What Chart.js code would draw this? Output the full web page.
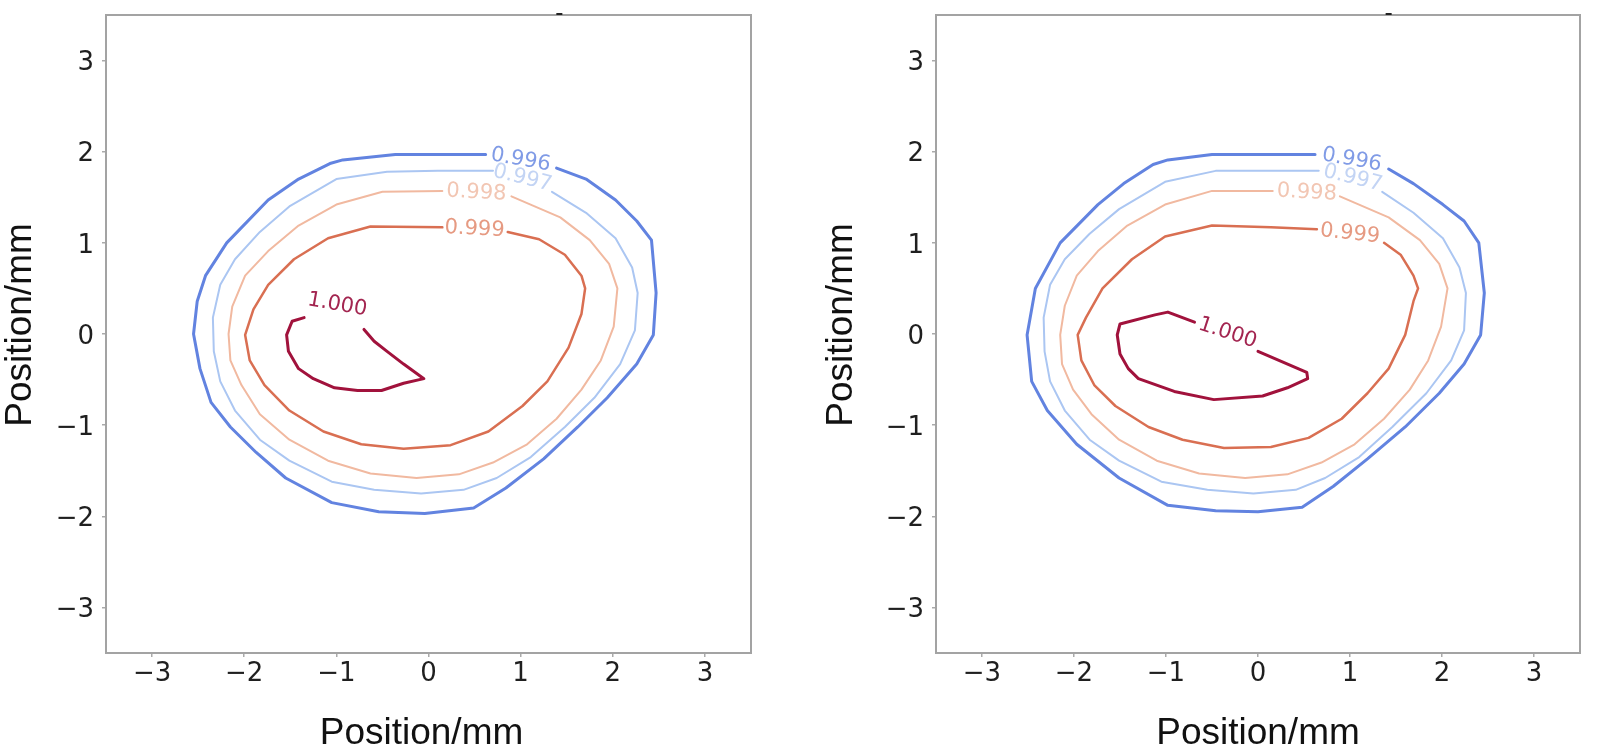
<!DOCTYPE html>
<html>
<head>
<meta charset="utf-8">
<script src="https://cdn.jsdelivr.net/npm/chart.js@4.4.1/dist/chart.umd.min.js"></script>
<style>
  body { margin: 0; background: #fff; width: 1600px; height: 744px; overflow: hidden; position: relative; }
  canvas { position: absolute; top: 0; }
  #left { left: 0; }
  #right { left: 821px; }
</style>
</head>
<body>
<canvas id="left" width="810" height="744"></canvas>
<canvas id="right" width="779" height="744"></canvas>
<script>
const tickValues = [-3, -2, -1, 0, 1, 2, 3];
const tickLabels = ['\u22123', '\u22122', '\u22121', '0', '1', '2', '3'];
const levels = ['0.996', '0.997', '0.998', '0.999', '1.000'];
const titleText = 'Position/mm';
const topTickValue = 1.42; // the stray little dash on the upper spine

// left panel, one open polyline per level (gap = label)
const left996 = [[0.62,1.97],[-0.36,1.97],[-0.93,1.91],[-1.07,1.87],[-1.41,1.70],[-1.74,1.47],[-2.19,1.00],[-2.42,0.64],[-2.51,0.36],[-2.55,0.0],[-2.48,-0.38],[-2.36,-0.75],[-2.15,-1.02],[-1.87,-1.30],[-1.55,-1.58],[-1.05,-1.85],[-0.54,-1.95],[-0.04,-1.97],[0.49,-1.91],[0.84,-1.69],[1.25,-1.37],[1.62,-1.02],[1.94,-0.70],[2.26,-0.33],[2.44,-0.01],[2.47,0.45],[2.42,1.03],[2.26,1.24],[2.03,1.47],[1.71,1.70],[1.39,1.82]];
const left997 = [[0.70,1.79],[0.10,1.79],[-0.45,1.78],[-1.00,1.70],[-1.51,1.40],[-1.83,1.12],[-2.10,0.82],[-2.26,0.54],[-2.34,0.18],[-2.33,-0.19],[-2.26,-0.52],[-2.10,-0.84],[-1.83,-1.16],[-1.51,-1.39],[-1.05,-1.62],[-0.59,-1.71],[-0.08,-1.75],[0.38,-1.71],[0.74,-1.58],[1.11,-1.35],[1.48,-1.02],[1.80,-0.70],[2.08,-0.33],[2.24,0.04],[2.27,0.45],[2.21,0.73],[2.03,1.05],[1.71,1.33],[1.34,1.56]];
const left998 = [[0.15,1.57],[-0.50,1.56],[-1.00,1.42],[-1.41,1.19],[-1.74,0.91],[-1.99,0.64],[-2.13,0.30],[-2.17,0.0],[-2.15,-0.29],[-2.03,-0.56],[-1.83,-0.88],[-1.51,-1.16],[-1.09,-1.39],[-0.63,-1.53],[-0.13,-1.58],[0.33,-1.54],[0.70,-1.41],[1.07,-1.21],[1.39,-0.93],[1.66,-0.61],[1.87,-0.29],[2.01,0.08],[2.05,0.50],[1.96,0.77],[1.75,1.03],[1.43,1.28],[0.90,1.51]];
const left999 = [[0.15,1.17],[-0.63,1.18],[-1.09,1.05],[-1.46,0.82],[-1.74,0.54],[-1.90,0.27],[-1.99,-0.01],[-1.94,-0.29],[-1.78,-0.56],[-1.51,-0.84],[-1.14,-1.07],[-0.73,-1.21],[-0.27,-1.26],[0.24,-1.22],[0.65,-1.07],[1.02,-0.79],[1.29,-0.52],[1.52,-0.15],[1.66,0.22],[1.70,0.50],[1.66,0.64],[1.48,0.87],[1.20,1.04],[0.86,1.12]];
const left1000 = [[-1.35,0.18],[-1.48,0.14],[-1.54,-0.01],[-1.52,-0.19],[-1.41,-0.38],[-1.25,-0.49],[-1.02,-0.59],[-0.77,-0.62],[-0.51,-0.62],[-0.27,-0.54],[-0.05,-0.49],[-0.27,-0.33],[-0.45,-0.19],[-0.59,-0.08],[-0.70,0.05]];

// right panel
const right996 = [[0.62,1.97],[-0.50,1.97],[-0.98,1.91],[-1.14,1.86],[-1.46,1.65],[-1.74,1.42],[-2.15,1.00],[-2.42,0.50],[-2.51,-0.01],[-2.46,-0.52],[-2.29,-0.84],[-1.97,-1.21],[-1.51,-1.58],[-0.98,-1.88],[-0.46,-1.94],[0.0,-1.95],[0.48,-1.90],[0.82,-1.67],[1.19,-1.37],[1.60,-1.02],[1.97,-0.65],[2.24,-0.33],[2.42,-0.01],[2.46,0.45],[2.40,1.00],[2.24,1.24],[2.01,1.42],[1.69,1.65],[1.42,1.81]];
const right997 = [[0.66,1.79],[-0.46,1.79],[-1.01,1.67],[-1.51,1.37],[-1.83,1.10],[-2.10,0.82],[-2.26,0.54],[-2.33,0.18],[-2.32,-0.19],[-2.26,-0.52],[-2.10,-0.84],[-1.83,-1.16],[-1.51,-1.39],[-1.05,-1.62],[-0.55,-1.71],[-0.05,-1.75],[0.41,-1.71],[0.73,-1.58],[1.10,-1.35],[1.46,-1.02],[1.83,-0.65],[2.10,-0.29],[2.24,0.04],[2.26,0.45],[2.19,0.73],[2.01,1.05],[1.69,1.33],[1.35,1.56]];
const right998 = [[0.16,1.57],[-0.50,1.57],[-1.01,1.42],[-1.42,1.19],[-1.74,0.91],[-1.97,0.64],[-2.10,0.31],[-2.15,-0.01],[-2.13,-0.33],[-2.01,-0.61],[-1.81,-0.88],[-1.51,-1.16],[-1.10,-1.39],[-0.64,-1.53],[-0.14,-1.58],[0.32,-1.54],[0.69,-1.41],[1.05,-1.21],[1.37,-0.93],[1.65,-0.61],[1.85,-0.29],[1.99,0.08],[2.06,0.50],[1.97,0.77],[1.76,1.03],[1.42,1.28],[0.89,1.51]];
const right999 = [[0.64,1.15],[0.14,1.17],[-0.50,1.19],[-1.01,1.07],[-1.37,0.82],[-1.69,0.50],[-1.87,0.18],[-1.96,-0.01],[-1.92,-0.29],[-1.78,-0.56],[-1.55,-0.79],[-1.19,-1.02],[-0.82,-1.16],[-0.37,-1.25],[0.14,-1.24],[0.55,-1.14],[0.91,-0.93],[1.19,-0.65],[1.42,-0.38],[1.60,-0.01],[1.69,0.36],[1.74,0.50],[1.69,0.64],[1.55,0.87],[1.37,1.00]];
const right1000 = [[-0.69,0.13],[-0.98,0.24],[-1.12,0.21],[-1.50,0.11],[-1.53,-0.01],[-1.50,-0.22],[-1.41,-0.38],[-1.30,-0.49],[-0.91,-0.63],[-0.48,-0.72],[0.05,-0.68],[0.32,-0.59],[0.54,-0.49],[0.53,-0.42],[0.0,-0.19]];

const lineColors = ['#6283e0', '#abc6f2', '#f1b9a0', '#d96f52', '#a1123c'];
const labelColors = ['#809be6', '#c3d4f4', '#f2c6b3', '#e69a82', '#a32550'];
const lineWidths = [3, 2, 2, 2.5, 3];

// where each level's inline label sits: [x, y, rotation deg]
const leftSpots = [[1.00, 1.91, 10], [1.02, 1.71, 14], [0.52, 1.55, 3], [0.50, 1.15, 3], [-0.99, 0.32, 10]];
const rightSpots = [[1.02, 1.91, 10], [1.03, 1.71, 14], [0.53, 1.55, 3], [1.00, 1.10, 6], [-0.33, 0.01, 18]];

const contourLabels = {
  id: 'contourLabels',
  afterDatasetsDraw(chart, args, opts) {
    const {ctx, scales: {x, y}} = chart;
    ctx.save();
    ctx.font = '21px "DejaVu Sans"';
    ctx.textAlign = 'center';
    ctx.textBaseline = 'middle';
    opts.spots.forEach((s, i) => {
      ctx.save();
      ctx.translate(x.getPixelForValue(s[0]), y.getPixelForValue(s[1]));
      ctx.rotate(s[2] * Math.PI / 180);
      ctx.fillStyle = labelColors[i];
      ctx.fillText(levels[i], 0, 0);
      ctx.restore();
    });
    ctx.restore();
  }
};

// grey box round the plot plus both axis titles
const frame = {
  id: 'frame',
  afterDraw(chart, args, opts) {
    const {ctx, chartArea: a, scales: {x}} = chart;
    ctx.save();
    ctx.strokeStyle = '#a3a3a3';
    ctx.lineWidth = 2;
    ctx.strokeRect(a.left, a.top, a.right - a.left, a.bottom - a.top);
    ctx.fillStyle = '#222';
    ctx.fillRect(x.getPixelForValue(topTickValue) - 3, a.top - 2, 6, 2);

    ctx.font = '37px "Liberation Sans"';
    ctx.fillStyle = '#111';
    ctx.textAlign = 'center';
    ctx.textBaseline = 'middle';
    ctx.fillText(titleText, (a.left + a.right) / 2 + opts.xShift, 734);
    ctx.translate(21, 325);
    ctx.rotate(-Math.PI / 2);
    ctx.fillText(titleText, 0, 0);
    ctx.restore();
  }
};

function axis(isX, size) {
  return {
    type: 'linear',
    min: -3.5,
    max: 3.5,
    afterBuildTicks: (s) => { s.ticks = tickValues.map((v) => ({value: v})); },
    afterFit: (s) => {
      if (isX) { s.height = size; s.paddingLeft = 0; s.paddingRight = 0; }
      else { s.width = size; s.paddingTop = 0; s.paddingBottom = 0; }
    },
    ticks: {
      callback: (v, i) => tickLabels[i],
      font: {family: 'DejaVu Sans', size: 26},
      color: '#1f1f1f',
      padding: isX ? 2 : 8,
      labelOffset: isX ? 0 : 3,
      maxRotation: 0,
      autoSkip: false
    },
    grid: {drawOnChartArea: false, tickLength: 4, color: '#aaa', lineWidth: 1.5},
    border: {display: false},
    title: {display: false}
  };
}

function drawPanel(id, contours, spots, yWidth, padRight, xShift) {
  return new Chart(document.getElementById(id), {
    type: 'scatter',
    data: {
      datasets: contours.map((d, i) => ({
        label: levels[i],
        data: d,
        showLine: true,
        pointRadius: 0,
        borderColor: lineColors[i],
        borderWidth: lineWidths[i],
        borderJoinStyle: 'round',
        borderCapStyle: 'round',
        tension: 0,
        fill: false
      }))
    },
    options: {
      responsive: false,
      animation: false,
      layout: {padding: {top: 15, right: padRight, left: 0, bottom: 0}},
      plugins: {
        legend: {display: false},
        tooltip: {enabled: false},
        contourLabels: {spots: spots},
        frame: {xShift: xShift}
      },
      scales: {
        x: axis(true, 91),
        y: axis(false, yWidth)
      }
    },
    plugins: [contourLabels, frame]
  });
}

drawPanel('left', [left996, left997, left998, left999, left1000], leftSpots, 106, 59, -7);
drawPanel('right', [right996, right997, right998, right999, right1000], rightSpots, 115, 20, 0);
</script>
</body>
</html>
